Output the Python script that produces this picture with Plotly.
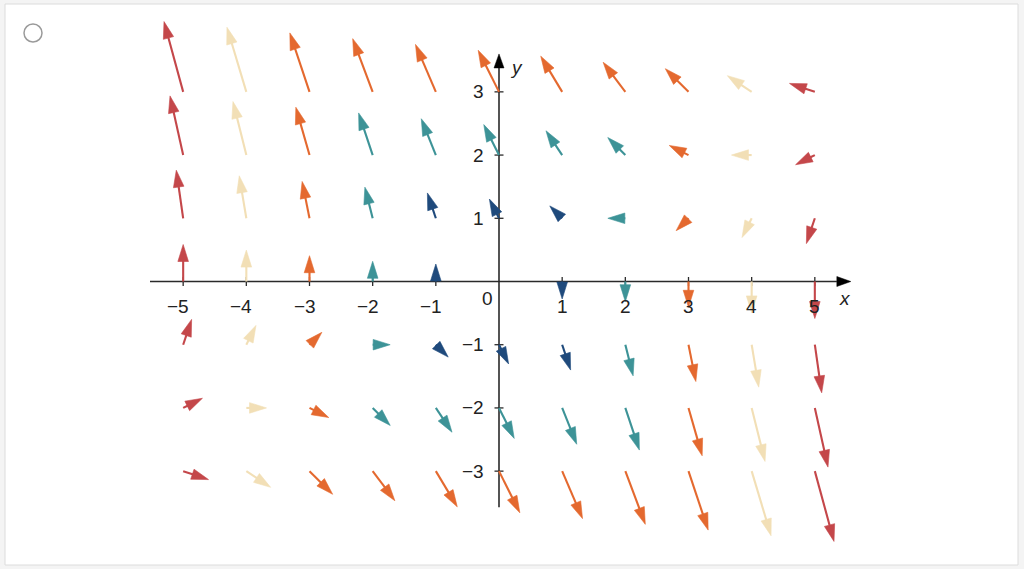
import math
import plotly.graph_objects as go

# ---------------- data ----------------
x_vals = [-5, -4, -3, -2, -1, 0, 1, 2, 3, 4, 5]
y_vals = [3, 2, 1, 0, -1, -2, -3]

# horizontal component of the field at each grid point (rows follow y_vals)
U = [
    [-3, -3, -3, -3, -3, -3, -3, -3, -3, -3, -3],
    [-2, -2, -2, -2, -2, -2, -2, -2, -2, -2, -2],
    [-1, -1, -1, -1, -1, -1, -1, -1, -1, -1, -1],
    [0, 0, 0, 0, 0, 0, 0, 0, 0, 0, 0],
    [1, 1, 1, 1, 1, 1, 1, 1, 1, 1, 1],
    [2, 2, 2, 2, 2, 2, 2, 2, 2, 2, 2],
    [3, 3, 3, 3, 3, 3, 3, 3, 3, 3, 3],
]
# vertical component of the field at each grid point
V = [
    [11, 10, 9, 8, 7, 6, 5, 4, 3, 2, 1],
    [9, 8, 7, 6, 5, 4, 3, 2, 1, 0, -1],
    [7, 6, 5, 4, 3, 2, 1, 0, -1, -2, -3],
    [5, 4, 3, 2, 1, 0, -1, -2, -3, -4, -5],
    [3, 2, 1, 0, -1, -2, -3, -4, -5, -6, -7],
    [1, 0, -1, -2, -3, -4, -5, -6, -7, -8, -9],
    [-1, -2, -3, -4, -5, -6, -7, -8, -9, -10, -11],
]

x_ticks = [-5, -4, -3, -2, -1, 1, 2, 3, 4, 5]
x_tick_text = ["\u22125", "\u22124", "\u22123", "\u22122", "\u22121", "1", "2", "3", "4", "5"]
y_ticks = [-3, -2, -1, 1, 2, 3]
y_tick_text = ["\u22123", "\u22122", "\u22121", "1", "2", "3"]

# colour by square ring around the origin: 1..5
ring_colors = ["#1f4a7c", "#3d9397", "#e4692f", "#f2dfb6", "#c4474a"]

# ---------------- layout geometry ----------------
W, H = 1024, 569
ML, MR, MT, MB = 120, 146, 16, 22
X_RANGE = [-6.0, 6.0]
Y_RANGE = [-4.2, 4.2]
PW, PH = W - ML - MR, H - MT - MB
PX_X = PW / (X_RANGE[1] - X_RANGE[0])
PX_Y = PH / (Y_RANGE[1] - Y_RANGE[0])

HEAD_LEN = 17.0   # px
HEAD_HALF = 5.3   # px
MIN_LEN = 17.5


def px_len(mag):
    return max(MIN_LEN, 9.0 + 5.6 * mag)


def paper_x(px):
    return (px - ML) / PW


def paper_y(py):
    return (H - MB - py) / PH


fig = go.Figure()

shafts = {i: ([], []) for i in range(5)}
heads = {i: ([], []) for i in range(5)}

for r, yv in enumerate(y_vals):
    for c, xv in enumerate(x_vals):
        u, v = U[r][c], V[r][c]
        mag = math.hypot(u, v)
        if mag == 0:
            continue
        ring = max(abs(xv), abs(yv))
        k = ring - 1
        dx, dy = u / mag, v / mag
        L = px_len(mag)
        tipx, tipy = xv + dx * L / PX_X, yv + dy * L / PX_Y
        bx = tipx - dx * HEAD_LEN / PX_X
        by = tipy - dy * HEAD_LEN / PX_Y
        qx, qy = -dy, dx
        lx, ly = bx + qx * HEAD_HALF / PX_X, by + qy * HEAD_HALF / PX_Y
        rx, ry = bx - qx * HEAD_HALF / PX_X, by - qy * HEAD_HALF / PX_Y
        if L > HEAD_LEN:
            sx, sy = shafts[k]
            sx += [xv, bx + dx * 1.0 / PX_X, None]
            sy += [yv, by + dy * 1.0 / PX_Y, None]
        hx, hy = heads[k]
        hx += [tipx, lx, rx, tipx, None]
        hy += [tipy, ly, ry, tipy, None]

for k in range(5):
    col = ring_colors[k]
    sx, sy = shafts[k]
    if sx:
        fig.add_trace(go.Scatter(x=sx, y=sy, mode="lines",
                                 line=dict(color=col, width=2.1),
                                 hoverinfo="skip", showlegend=False))
    hx, hy = heads[k]
    fig.add_trace(go.Scatter(x=hx, y=hy, mode="lines", fill="toself",
                             fillcolor=col, line=dict(color=col, width=0.6),
                             hoverinfo="skip", showlegend=False))

# ---------------- axes (drawn through the data scales) ----------------
AX_COL = "#2a2a2a"
x_start, x_tip = (150 - (ML + PW / 2)) / PX_X, 5.57
y_start, y_tip = -3.57, 3.6
AH_LEN, AH_HALF = 14.0, 5.0

fig.add_shape(type="line", x0=x_start, y0=0, x1=x_tip - AH_LEN / PX_X, y1=0,
              line=dict(color=AX_COL, width=1.6), layer="below")
fig.add_shape(type="line", x0=0, y0=y_start, x1=0, y1=y_tip - AH_LEN / PX_Y,
              line=dict(color=AX_COL, width=1.6), layer="below")
fig.add_trace(go.Scatter(
    x=[x_tip, x_tip - AH_LEN / PX_X, x_tip - AH_LEN / PX_X, x_tip, None,
       0, AH_HALF / PX_X, -AH_HALF / PX_X, 0],
    y=[0, AH_HALF / PX_Y, -AH_HALF / PX_Y, 0, None,
       y_tip, y_tip - AH_LEN / PX_Y, y_tip - AH_LEN / PX_Y, y_tip],
    mode="lines", fill="toself", fillcolor="black",
    line=dict(color="black", width=0.5), hoverinfo="skip", showlegend=False))

TICK = 4.5
for t in x_ticks:
    fig.add_shape(type="line", x0=t, x1=t, y0=-TICK / PX_Y, y1=TICK / PX_Y,
                  line=dict(color=AX_COL, width=1.3), layer="below")
for t in y_ticks:
    fig.add_shape(type="line", y0=t, y1=t, x0=-TICK / PX_X, x1=TICK / PX_X,
                  line=dict(color=AX_COL, width=1.3), layer="below")

FONT = dict(family="Liberation Sans, Arial, sans-serif", size=19, color="#222222")
for t, txt in zip(x_ticks, x_tick_text):
    fig.add_annotation(x=t, y=0, text=txt, showarrow=False, font=FONT,
                       xanchor="center", yanchor="middle",
                       xshift=(-5 if t < 0 else 0), yshift=-25)
for t, txt in zip(y_ticks, y_tick_text):
    fig.add_annotation(x=0, y=t, text=txt, showarrow=False, font=FONT,
                       xanchor="right", yanchor="middle", xshift=-13)
fig.add_annotation(x=0, y=0, text="0", showarrow=False, font=FONT,
                   xanchor="center", yanchor="middle", xshift=-12, yshift=-17)
fig.add_annotation(x=5.48, y=0, text="<i>x</i>", showarrow=False, font=FONT,
                   xanchor="center", yanchor="middle", yshift=-17)
fig.add_annotation(x=0, y=3.38, text="<i>y</i>", showarrow=False, font=FONT,
                   xanchor="center", yanchor="middle", xshift=17)

# ---------------- page frame ----------------
fig.add_shape(type="rect", xref="paper", yref="paper",
              x0=paper_x(5), x1=paper_x(1018), y0=paper_y(565), y1=paper_y(4),
              fillcolor="white", line=dict(color="#dcdcdc", width=1), layer="below")
fig.add_shape(type="circle", xref="paper", yref="paper",
              x0=paper_x(24), x1=paper_x(42), y0=paper_y(42), y1=paper_y(24),
              line=dict(color="#9a9a9a", width=1.5), fillcolor="rgba(0,0,0,0)")

fig.update_layout(
    width=W, height=H,
    margin=dict(l=ML, r=MR, t=MT, b=MB, pad=0),
    paper_bgcolor="#f4f4f4", plot_bgcolor="rgba(0,0,0,0)",
    xaxis=dict(range=X_RANGE, visible=False, fixedrange=True),
    yaxis=dict(range=Y_RANGE, visible=False, fixedrange=True),
    showlegend=False,
)

fig.write_html("out.html", config={"displayModeBar": False},
               post_script="document.body.style.margin='0px';")
